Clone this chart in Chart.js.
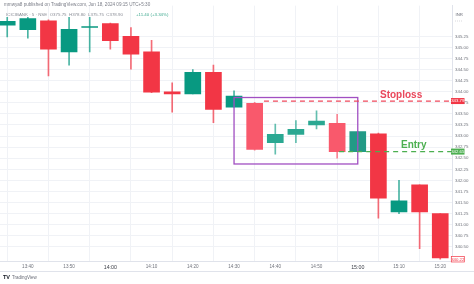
<!DOCTYPE html>
<html><head><meta charset="utf-8">
<script src="https://cdn.jsdelivr.net/npm/chart.js@4.4.1/dist/chart.umd.min.js"></script>
<style>html,body{margin:0;padding:0;background:#fff;}#wrap{width:474px;height:284px;}</style>
</head><body><div id="wrap"><canvas id="c" width="474" height="284"></canvas></div>
<script>
const times  = ['13:35','13:40','13:45','13:50','13:55','14:00','14:05','14:10','14:15','14:20','14:25','14:30','14:35','14:40','14:45','14:50','14:55','15:00','15:05','15:10','15:15','15:20'];
const opens  = [345.50,345.40,345.60,344.90,345.45,345.54,345.25,344.90,344.00,343.95,344.44,343.65,343.74,342.85,343.04,343.25,343.29,342.65,343.05,341.29,341.90,341.25];
const highs  = [345.68,345.68,345.62,345.68,345.68,345.55,345.45,345.16,344.20,344.50,344.60,344.02,343.76,343.27,343.35,343.57,343.49,343.10,343.07,342.00,341.90,341.25];
const lows   = [345.24,345.21,344.36,344.60,344.90,344.96,344.51,343.98,343.54,343.95,343.30,343.65,342.68,342.59,342.85,343.16,342.50,342.65,341.15,341.25,340.46,340.22];
const closes = [345.59,345.65,344.96,345.41,345.46,345.15,344.85,343.99,343.95,344.44,343.60,343.90,342.70,343.04,343.15,343.34,342.65,343.10,341.60,341.54,341.29,340.25];
const tickTimes = [1,3,5,7,9,11,13,15,17,19,21];
const priceTicks = [340.50,340.75,341.00,341.25,341.50,341.75,342.00,342.25,342.50,342.75,343.00,343.25,343.50,343.75,344.00,344.25,344.50,344.75,345.00,345.25];
const stoploss = 343.79;
const entry = 342.65;
const lastPrice = 340.22;
const zoneStart = 11, zoneEnd = 17, zoneLow = 342.37, zoneHigh = 343.87;
const lineStart = 12.45, entryStart = 16;

const FONT = '"Liberation Sans", Arial, sans-serif';
function candleColor(i){
  const up = closes[i] >= opens[i];
  if (i === 17) return '#229a86';
  if (i >= 12 && i <= 16) return up ? '#2aa892' : '#f9596c';
  return up ? '#089981' : '#f23645';
}
const idx = times.map((t,i)=>i);
const bodyData = idx.map(i=>({x:i, y:[opens[i], closes[i]]}));
const wickData = idx.map(i=>({x:i, y:[lows[i], highs[i]]}));
const colors = idx.map(candleColor);

const overlay = {
  id:'overlay',
  beforeDatasetsDraw(chart){
    const c = chart.ctx;
    c.save();
    c.textBaseline='middle'; c.textAlign='left';
    c.fillStyle='#7a7d87'; c.font='4.6px '+FONT;
    c.fillText('mmwya8 published on TradingView.com, Jun 18, 2024 09:15 UTC+5:30', 4, 5);
    c.fillStyle='#8a8d96'; c.font='4.4px '+FONT;
    c.fillText('ICICIBANK · 5 · NSE  O375.75  H378.80  L375.75  C378.90 ', 6, 15);
    c.fillStyle='#3fa98f';
    c.fillText('+11.40 (+3.34%)', 136, 15);
    c.restore();
  },
  afterDraw(chart){
    const c = chart.ctx, x = chart.scales.x, y = chart.scales.y, a = chart.chartArea;
    c.save();
    const bx0 = x.getPixelForValue(zoneStart), bx1 = x.getPixelForValue(zoneEnd);
    const by0 = y.getPixelForValue(zoneHigh), by1 = y.getPixelForValue(zoneLow);
    c.strokeStyle='#a14fc2'; c.lineWidth=1.3;
    c.strokeRect(bx0, by0, bx1-bx0, by1-by0);
    const sy = y.getPixelForValue(stoploss);
    c.setLineDash([5,4]); c.lineWidth=1.3; c.strokeStyle='#ef4a5c';
    c.beginPath(); c.moveTo(x.getPixelForValue(lineStart), sy); c.lineTo(a.right, sy); c.stroke();
    const ey = y.getPixelForValue(entry);
    c.strokeStyle='#4caf50';
    c.beginPath(); c.moveTo(x.getPixelForValue(entryStart)+2, ey); c.lineTo(a.right, ey); c.stroke();
    c.setLineDash([]);
    c.font='600 10px '+FONT; c.textAlign='left'; c.textBaseline='alphabetic';
    c.fillStyle='#e9475b'; c.fillText('Stoploss', 380, sy-3);
    c.fillStyle='#4caf50'; c.fillText('Entry', 401, ey-4);
    function tag(v, fill, stroke, txt){
      const py = y.getPixelForValue(v);
      if (fill){ c.fillStyle=fill; c.fillRect(451, py-3, 13.5, 6); }
      if (stroke){ c.fillStyle='#fff'; c.fillRect(451, py-3, 13.5, 6); c.strokeStyle=stroke; c.lineWidth=0.7; c.strokeRect(451.3, py-2.7, 13, 5.4); }
      c.fillStyle=txt; c.font='4.3px '+FONT; c.textAlign='center'; c.textBaseline='middle';
      c.fillText(v.toFixed(2), 457.8, py+0.2);
    }
    tag(stoploss, '#f23645', null, '#ffffff');
    tag(entry, '#4caf50', null, '#ffffff');
    tag(lastPrice, null, '#f23645', '#f23645');
    c.fillStyle='#6a6d78'; c.font='4.3px '+FONT; c.textAlign='left'; c.textBaseline='middle';
    c.fillText('INR', 455.5, 15.3);
    c.strokeStyle='#b0b3bb'; c.lineWidth=0.5; c.setLineDash([1,1]);
    c.beginPath(); c.moveTo(455, 21); c.lineTo(463, 21); c.stroke(); c.setLineDash([]);
    c.strokeStyle='#e0e3eb'; c.lineWidth=1;
    c.beginPath(); c.moveTo(0, 271.5); c.lineTo(474, 271.5); c.stroke();
    c.fillStyle='#131722'; c.font='bold 5.5px '+FONT; c.textAlign='left';
    c.fillText('TV', 3, 277.5);
    c.fillStyle='#6a6d78'; c.font='4.5px '+FONT;
    c.fillText('TradingView', 12, 277.5);
    c.restore();
  }
};

new Chart(document.getElementById('c'), {
  type:'bar',
  data:{ datasets:[
    { label:'wick', data: wickData, backgroundColor: colors.map(c=>c+'bb'), barThickness:1, grouped:false, order:2 },
    { label:'body', data: bodyData, backgroundColor: colors, barThickness:16, minBarLength:1, grouped:false, order:1 }
  ]},
  options:{
    responsive:false, animation:false, devicePixelRatio:1,
    layout:{ padding:{ left:0, right:0, top:0, bottom:13 } },
    plugins:{ legend:{display:false}, tooltip:{enabled:false} },
    scales:{
      x:{ type:'linear', min:-0.35, max:21.57, offset:false,
          afterBuildTicks: s => { s.ticks = tickTimes.map(v=>({value:v})); },
          afterFit: s => { s.height = 10; },
          grid:{ color:'#f0f2f6', drawTicks:false },
          border:{ color:'#e0e3eb' },
          ticks:{ autoSkip:false, maxRotation:0, padding:3, color:(ctx)=> (times[ctx.tick.value]||'').endsWith(':00') ? '#3a3d46' : '#70737c',
                  font:(ctx)=>({ family:FONT, size: (times[ctx.tick && ctx.tick.value]||'').endsWith(':00') ? 5.3 : 4.6 }),
                  callback:(v)=> times[v] || '' } },
      y:{ type:'linear', position:'right', min:340.181, max:345.943,
          afterBuildTicks: s => { s.ticks = priceTicks.map(v=>({value:v})); },
          afterFit: s => { s.width = 22; },
          grid:{ color:'#f0f2f6', drawTicks:false },
          border:{ color:'#e0e3eb' },
          ticks:{ padding:3, color:'#70737c', font:{ family:FONT, size:4.4 }, callback:(v)=> Number(v).toFixed(2) } }
    }
  },
  plugins:[overlay]
});
</script></body></html>
